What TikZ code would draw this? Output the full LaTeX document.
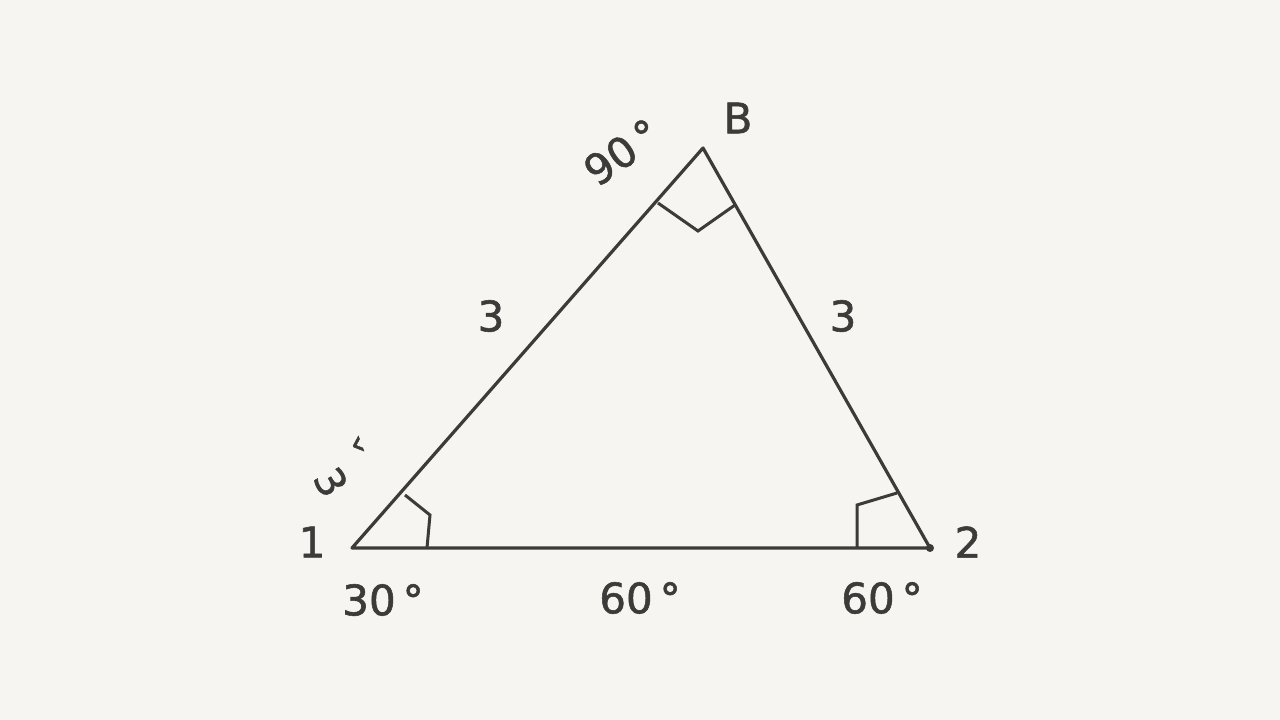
\documentclass[tikz,border=0pt]{standalone}
\usepackage{fontspec}
\setmainfont[FakeBold=1.3]{DejaVu Sans}
\begin{document}
\begin{tikzpicture}[x=1pt,y=-1pt,
  edge/.style={line width=3.2pt,draw=ink,line cap=round,line join=round},
  anglemark/.style={line width=3pt,draw=ink,line join=miter},
  lbl/.style={text=ink,font=\fontsize{42}{44}\selectfont,inner sep=0pt}]
\definecolor{ink}{HTML}{3C3B3A}
\definecolor{bg}{HTML}{F7F5F1}
\fill[bg] (0,0) rectangle (1280,720);
\useasboundingbox (0,0) rectangle (1280,720);
\coordinate (A) at (352,548);
\coordinate (B) at (703,148);
\coordinate (C) at (930,548);
\draw[edge] (A) -- (B) -- (C) -- cycle;
\fill[ink] (C) circle (4);
% angle marks
\coordinate (a1) at (405,495); \coordinate (a2) at (430,515); \coordinate (a3) at (427,548);
\draw[anglemark] (a1) -- (a2) -- (a3);
\coordinate (b1) at (658,203); \coordinate (b2) at (698,231); \coordinate (b3) at (735,205);
\draw[anglemark] (b1) -- (b2) -- (b3);
\coordinate (c1) at (897,493); \coordinate (c2) at (857,505); \coordinate (c3) at (857,548);
\draw[anglemark] (c1) -- (c2) -- (c3);
% labels
\node[lbl] (n1) at (312,542) {1};
\node[lbl] (n2) at (968,542) {2};
\node[lbl] (nB) at (738,118) {B};
\node[lbl,rotate=35] (n90) at (622,152) {90\,°};
\node[lbl] (s1) at (491,316) {3};
\node[lbl] (s2) at (843,316) {3};
\node[lbl,rotate=-60,font=\fontsize{40}{42}\selectfont] (odd) at (331,482) {3};
\node[lbl,rotate=20,font=\fontsize{36}{38}\selectfont] (oddb) at (358,446) {‹};
\node[lbl] (d30) at (383,600) {30\,°};
\node[lbl] (d60a) at (640,598) {60\,°};
\node[lbl] (d60b) at (882,598) {60\,°};
\end{tikzpicture}
\end{document}
